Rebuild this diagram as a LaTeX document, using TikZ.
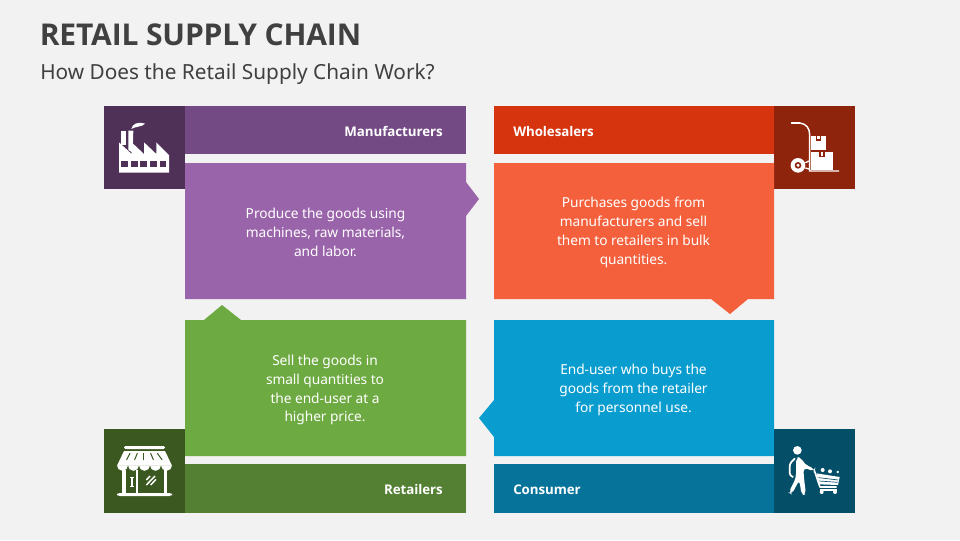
\documentclass[tikz,border=0pt]{standalone}
\usepackage{fontspec}
\setmainfont{Noto Sans}
\newfontfamily\headfont{Open Sans}
\definecolor{bgc}{HTML}{F2F2F2}
\definecolor{ink}{HTML}{404040}
\definecolor{mbar}{HTML}{744A85}\definecolor{mbox}{HTML}{4F3057}\definecolor{mpan}{HTML}{9A64AA}
\definecolor{wbar}{HTML}{D5340F}\definecolor{wbox}{HTML}{8F240C}\definecolor{wpan}{HTML}{F4603C}
\definecolor{rbar}{HTML}{548033}\definecolor{rbox}{HTML}{3B5820}\definecolor{rpan}{HTML}{6EAA42}
\definecolor{cbar}{HTML}{06749A}\definecolor{cbox}{HTML}{044E68}\definecolor{cpan}{HTML}{099CCE}
\tikzset{
  px/.style={x=.75pt,y=-.75pt},
  bodytext/.style={text=white,align=center,font=\fontsize{10.3pt}{14.2pt}\selectfont\addfontfeature{LetterSpace=-0.5}},
  headtext/.style={text=white,font=\headfont\fontsize{10pt}{13pt}\selectfont\bfseries\addfontfeature{LetterSpace=-0.5}},
  icon/.style={shift={#1},x=.25pt,y=-.25pt},
}
\begin{document}
\begin{tikzpicture}[px]
\useasboundingbox (0,0) rectangle (960,540);
\fill[bgc] (0,0) rectangle (960,540);
\node[anchor=west,inner sep=0pt,text=ink,font=\headfont\fontsize{22.5pt}{28pt}\selectfont\bfseries\addfontfeature{LetterSpace=-0.5}] (title) at (39.5,34.5) {RETAIL SUPPLY CHAIN};
\node[anchor=west,inner sep=0pt,text=ink,font=\fontsize{15.6pt}{18pt}\selectfont] (subtitle) at (40,74) {How Does the Retail Supply Chain Work?};
% manufacturers
\fill[mbar] (185,106) rectangle (466,154);
\fill[mbox] (104,106) rectangle (185,189);
\fill[mpan] (185,163) -- (466,163) -- (466,182) -- (479,199) -- (466,216) -- (466,299) -- (185,299) -- cycle;
% wholesalers
\fill[wbar] (494,106) rectangle (774,154);
\fill[wbox] (774,106) rectangle (855,189);
\fill[wpan] (494,163) -- (774,163) -- (774,299) -- (748,299) -- (730,314) -- (711,299) -- (494,299) -- cycle;
% retailers
\fill[rpan] (185,320) -- (204,320) -- (222,305) -- (241,320) -- (466,320) -- (466,456) -- (185,456) -- cycle;
\fill[rbar] (185,464) rectangle (466,513);
\fill[rbox] (104,429) rectangle (185,513);
% consumer
\fill[cpan] (494,320) -- (774,320) -- (774,456) -- (494,456) -- (494,437) -- (479,418) -- (494,400) -- cycle;
\fill[cbar] (494,464) rectangle (774,513);
\fill[cbox] (774,429) rectangle (855,513);
% headings
\node[headtext,anchor=east,inner sep=0pt] (hm) at (443,131.5) {Manufacturers};
\node[headtext,anchor=west,inner sep=0pt] (hw) at (513,131.5) {Wholesalers};
\node[headtext,anchor=east,inner sep=0pt] (hr) at (443,489.5) {Retailers};
\node[headtext,anchor=west,inner sep=0pt] (hc) at (513,489.5) {Consumer};
% bodies
\node[bodytext] (tm) at (325.5,232) {Produce the goods using\\machines, raw materials,\\and labor.};
\node[bodytext] (tw) at (633.5,232) {Purchases goods from\\manufacturers and sell\\them to retailers in bulk\\quantities.};
\node[bodytext] (tr) at (325,390) {Sell the goods in\\small quantities to\\the end-user at a\\higher price.};
\node[bodytext] (tc) at (633.5,389.5) {End-user who buys the\\goods from the retailer\\for personnel use.};
% factory icon
\begin{scope}[icon={(100,100)}]
\fill[white] (64,92) rectangle (78,135);
\fill[white] (85,92) -- (100,92) -- (98,158) -- (85,150) -- cycle;
\fill[white] (57,127) -- (95,162) -- (95,127) -- (132,162) -- (132,127) -- (169,162) -- (169,127) -- (207,165) -- (207,218) -- (57,218) -- cycle;
\fill[mbox] (78,92) rectangle (85,135);
\fill[white] (94,87) .. controls (97,72) and (112,64) .. (135,71) .. controls (125,82) and (108,78) .. (94,87) -- cycle;
\foreach \wx in {64,93,121,150,179} \fill[mbox] (\wx,182) rectangle +(20,18);
\end{scope}
% trolley icon
\begin{scope}[icon={(770,100)}]
\fill[white] (63,66) rectangle (90,72);
\draw[white,line width=1.1pt] (90,69) .. controls (110,72) and (119,85) .. (119,105) -- (119,213) -- (207,213);
\fill[white] (122,108) rectangle (168,150);
\fill[white] (122,155) rectangle (189,210);
\fill[wbox] (138,108) rectangle (153,122);\fill[white] (142,108) rectangle (149,118);
\fill[wbox] (148,155) rectangle (164,172);\fill[white] (152,155) rectangle (160,168);
\fill[white] (84,196) circle[radius=22];
\fill[wbox] (84,196) circle[radius=10];
\fill[white] (84,196) circle[radius=5];
\draw[white,line width=1pt] (106,188) -- (117,183) (106,204) -- (117,207);
\end{scope}
% shop icon
\begin{scope}[icon={(100,425)}]
\fill[white,rounded corners=1pt] (72,63) rectangle (195,72);
\fill[white] (72,78) -- (195,78) -- (216,122) -- (51,122) -- cycle;
\foreach \a in {51,84,117,150,183} \fill[white] (\a,121) arc[start angle=180,end angle=0,radius=16.5];
\foreach \a/\b in {90/80,112/104,131/131,152/160,172/186} \draw[rbox,line width=.75pt,line cap=round] (\a,85) -- (\b,104);
\fill[white] (66,135) rectangle (77,208);
\fill[white] (191,135) rectangle (202,208);
\fill[white] (107,135) rectangle (113,208);
\fill[white,rounded corners=2pt] (51,204) rectangle (216,213);
\fill[white] (94,156) rectangle (100,186);
\fill[white] (91,156) rectangle (103,160);\fill[white] (91,182) rectangle (103,186);
\draw[white,line width=1.1pt] (139,165) -- (150,153) (139,180) -- (165,153) (152,180) -- (168,163);
\end{scope}
% shopper icon
\begin{scope}[icon={(770,425)}]
\fill[white] (82,76) circle[radius=13];
\fill[white,rounded corners=3pt] (78,98) -- (92,96) -- (104,118) -- (135,132) -- (133,139) -- (100,128) -- (102,160) -- (108,208) -- (95,211) -- (88,165) -- (65,208) -- (56,203) -- (78,158) -- cycle;
\draw[white,line width=1.3pt,rounded corners=2pt] (75,100) -- (59,116) -- (59,152) -- (70,156);
\draw[white,line width=1.2pt,line join=round] (133,136) -- (147,178) -- (150,186) -- (200,186);
\fill[white] (139,145) -- (209,156) -- (204,180) -- (148,178) -- cycle;
\draw[cbox,line width=.5pt] (146,158) -- (205,165) (148,168) -- (203,172);
\fill[white] (155,201) circle[radius=6];
\fill[white] (195,201) circle[radius=6];
\fill[white] (150,193) rectangle (202,197);
\fill[white] (158,135) circle[radius=6];
\fill[white] (180,139) circle[radius=6];
\fill[white] (203,141) circle[radius=4];
\end{scope}
\end{tikzpicture}
\end{document}
